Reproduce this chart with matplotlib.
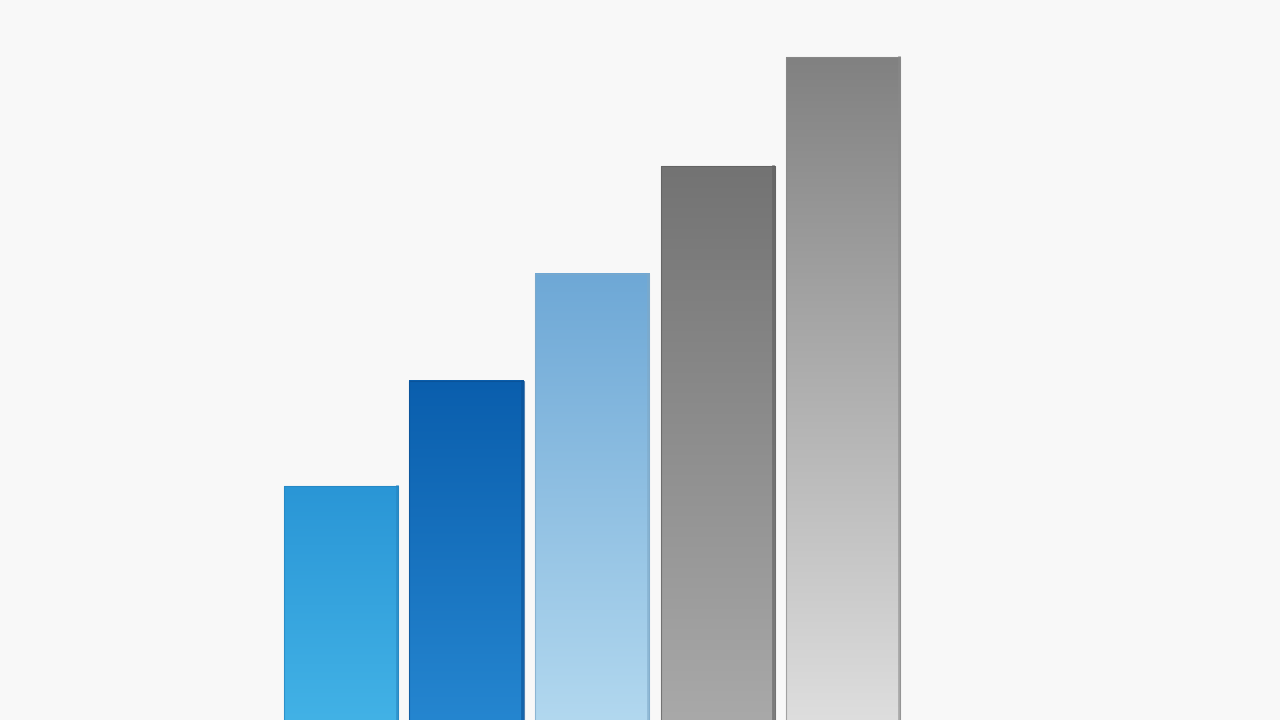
import matplotlib
matplotlib.use("Agg")
import matplotlib.pyplot as plt
import numpy as np
from matplotlib.colors import LinearSegmentedColormap

# Bar values (arbitrary units)
categories = ["A", "B", "C", "D", "E"]
values = [22.0, 31.8, 41.7, 51.7, 61.8]
top_colors = ["#2a96d6", "#0a5ead", "#6ea8d6", "#737373", "#818181"]
bottom_colors = ["#42b2e6", "#2586d0", "#b2d8ef", "#a9a9a9", "#dedede"]
edge_colors = ["#2584c0", "#0b4f93", "#7ea9c8", "#5e5e5e", "#8a8a8a"]

fig = plt.figure(figsize=(12.8, 7.2), dpi=100)
fig.patch.set_facecolor("#f8f8f8")
ax = fig.add_axes([0, 0, 1, 1])
ax.set_facecolor("#f8f8f8")

x = np.arange(len(categories))
width = 0.91
grad = np.linspace(0, 1, 256).reshape(-1, 1)

for i, v in enumerate(values):
    cmap = LinearSegmentedColormap.from_list(f"g{i}", [bottom_colors[i], top_colors[i]])
    ax.imshow(grad, cmap=cmap, origin="lower", aspect="auto",
              extent=[x[i] - width / 2, x[i] + width / 2, 0, v], zorder=2)
    ax.bar(x[i], v, width=width, facecolor="none", edgecolor=edge_colors[i],
           linewidth=0.8, alpha=0.7, zorder=3)
    # darker strip on the right side
    ax.plot([x[i] + width / 2 - 0.012] * 2, [0, v], color=edge_colors[i],
            linewidth=2.0, alpha=0.6, zorder=3)

ax.set_xlim(-2.717, 7.48)
ax.set_ylim(0.28, 67.13)
ax.axis("off")

fig.savefig("out.png", dpi=100, facecolor=fig.get_facecolor())
